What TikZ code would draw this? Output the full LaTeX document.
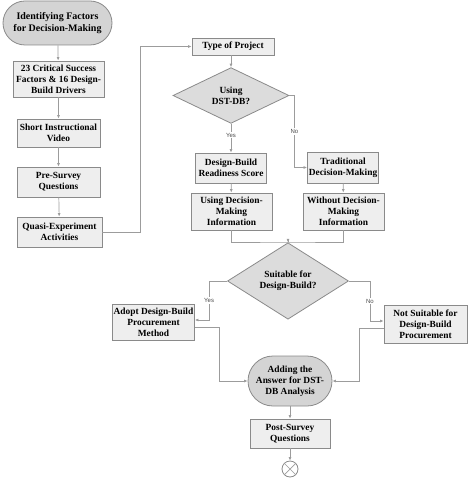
\documentclass[tikz,border=0pt]{standalone}
\usepackage{fontspec}
\setmainfont{Liberation Serif}
\newfontfamily\lblfont{Liberation Sans}
\usetikzlibrary{shapes.geometric,arrows.meta}
\definecolor{boxgray}{HTML}{EEEEEE}
\definecolor{termgray}{HTML}{D4D4D4}
\definecolor{diagray}{HTML}{DCDCDC}
\definecolor{edgegray}{HTML}{8A8A8A}
\definecolor{linegray}{HTML}{9C9C9C}
\begin{document}
\begin{tikzpicture}[x=1pt,y=-1pt]
    \tikzset{box/.style={rectangle, draw=edgegray, fill=boxgray, line width=0.8pt, inner sep=1pt,
                         align=center, font=\fontsize{9.4}{10.8}\selectfont\bfseries},
             term/.style={box, fill=termgray, rounded corners=#1},
             decision/.style={diamond, draw=edgegray, fill=diagray, line width=0.8pt, inner sep=0pt,
                              align=center, font=\fontsize{9.4}{10.8}\selectfont\bfseries},
             endnode/.style={circle, draw=edgegray, fill=white, line width=0.8pt, minimum size=16pt, inner sep=0pt},
             link/.style={draw=linegray, line width=0.7pt},
             arrow/.style={link, -{Latex[length=3.5pt,width=3pt]}},
             lbl/.style={fill=white, inner sep=1pt, text=black!70, font=\lblfont\fontsize{6}{7}\selectfont}}
    \useasboundingbox (0,0) rectangle (474,481);

    \node[term=22pt, minimum width=109pt, minimum height=44pt, font=\fontsize{10}{12}\selectfont\bfseries] (start) at (57.5,23) {Identifying Factors\\for Decision-Making};
    \node[box, minimum width=91pt, minimum height=36pt] (csf)       at (58.5,79)  {23 Critical Success\\Factors \& 16 Design-\\Build Drivers};
    \node[box, minimum width=83pt, minimum height=28pt] (video)     at (58.5,133) {Short Instructional\\Video};
    \node[box, minimum width=83pt, minimum height=30pt] (presurvey) at (58.5,182) {Pre-Survey\\Questions};
    \node[box, minimum width=85pt, minimum height=30pt] (quasi)     at (59.5,232) {Quasi-Experiment\\Activities};

    \node[box, minimum width=82pt, minimum height=17pt]       (type)        at (233,46.5)  {Type of Project};
    \node[decision, minimum width=116pt, minimum height=47pt] (usingdst)    at (231,95.5)  {Using\\DST-DB?};
    \node[box, minimum width=71pt, minimum height=30pt]       (readiness)   at (231,168)   {Design-Build\\Readiness Score};
    \node[box, minimum width=81pt, minimum height=37pt]       (withinfo)    at (231.5,211.5) {Using Decision-\\Making\\Information};
    \node[box, minimum width=71pt, minimum height=31pt]       (traditional) at (343,167.5) {Traditional\\Decision-Making};
    \node[box, minimum width=81pt, minimum height=37pt]       (noinfo)      at (343.5,211.5) {Without Decision-\\Making\\Information};

    \node[decision, minimum width=121pt, minimum height=52pt] (suitable)    at (288,281)   {Suitable for\\Design-Build?};
    \node[box, minimum width=82pt, minimum height=36pt]       (adopt)       at (153.5,322.5) {Adopt Design-Build\\Procurement\\Method};
    \node[box, minimum width=83pt, minimum height=38pt]       (notsuitable) at (425.5,324) {Not Suitable for\\Design-Build\\Procurement};
    \node[term=25pt, minimum width=84pt, minimum height=50pt] (adding)      at (290,381)   {Adding the\\Answer for DST-\\DB Analysis};
    \node[box, minimum width=80pt, minimum height=29pt]       (postsurvey)  at (290,433.5) {Post-Survey\\Questions};
    \node[endnode] (finish) at (290,469) {};

    \draw[arrow] (start) -- (csf);
    \draw[arrow] (csf) -- (video);
    \draw[arrow] (video) -- (presurvey);
    \draw[arrow] (presurvey) -- (quasi);
    \draw[arrow] (quasi.east) -- ++(38,0) |- (type.west);

    \draw[arrow] (type.south -| usingdst.north) -- (usingdst.north);
    \draw[arrow] (usingdst.south) -- node[lbl, pos=0.4] {Yes} (readiness.north);
    \draw[arrow] (usingdst.east) -- ++(5,0) |- node[lbl, pos=0.25] {No} (traditional.west);
    \draw[arrow] (readiness) -- (withinfo);
    \draw[arrow] (traditional) -- (noinfo);

    \coordinate (merge) at (288,242);
    \draw[link] (withinfo.south) |- (merge) -| (noinfo.south);
    \draw[arrow] (merge) -- (suitable.north);
    \draw[arrow] (suitable.west) -- ++(-18,0) |- node[lbl, pos=0.25] {Yes} ([yshift=2.5pt]adopt.east);
    \draw[arrow] (suitable.east) -- ++(21,0) |- node[lbl, pos=0.25] {No} ([yshift=3pt]notsuitable.west);
    \draw[arrow] ([yshift=-4.5pt]adopt.east) -- ++(24,0) |- (adding.west);
    \draw[arrow] ([yshift=-4pt]notsuitable.west) -- ++(-24,0) |- (adding.east);
    \draw[arrow] (adding) -- (postsurvey);
    \draw[arrow] (postsurvey) -- (finish);
    \draw[link] (finish.north east) -- (finish.south west)
                (finish.north west) -- (finish.south east);
\end{tikzpicture}
\end{document}
